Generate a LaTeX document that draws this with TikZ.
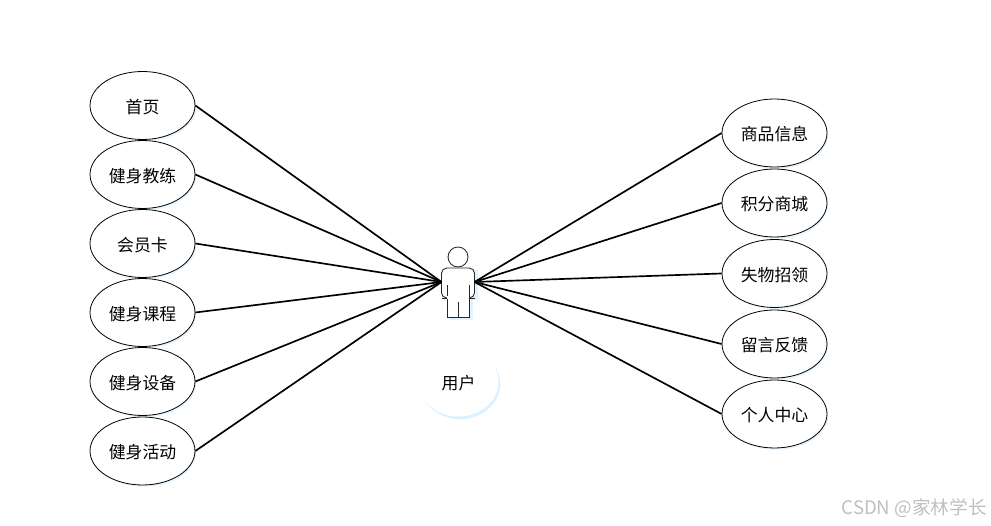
\documentclass[tikz,border=0pt]{standalone}
\usepackage{fontspec}
\setmainfont{Noto Sans CJK SC}
\usetikzlibrary{positioning}
\usetikzlibrary{shapes.geometric}
\usetikzlibrary{shadows}
\tikzset{
  roleshape/.style={ellipse,fill=white,inner sep=0pt,text height=10pt,text depth=1pt,font=\fontsize{9.6pt}{11pt}\selectfont,text=black},
  usecase/.style={roleshape,draw=black,line width=0.45pt,minimum width=2.1cm,minimum height=1.36cm,
    drop shadow={shadow xshift=0.7pt,shadow yshift=-1pt,fill=blue!40!cyan!15,opacity=0.7}},
  roleline/.style={black,line width=0.95pt},
  actorline/.style={black!85,line width=0.5pt},
}

\begin{document}
\begin{tikzpicture}[x=0.02cm,y=-0.02cm]
\useasboundingbox (0,0) rectangle (991,526);

\node[usecase] (home) at (142.5,105.5) {首页};
\node[usecase] (coach) at (142.5,174.5) {健身教练};
\node[usecase] (card) at (142.5,243.5) {会员卡};
\node[usecase] (course) at (142.5,312.5) {健身课程};
\node[usecase] (device) at (142.5,381.5) {健身设备};
\node[usecase] (activity) at (142.5,451) {健身活动};

\node[usecase] (goods) at (774.5,133) {商品信息};
\node[usecase] (mall) at (774.5,203) {积分商城};
\node[usecase] (lost) at (774.5,273.5) {失物招领};
\node[usecase] (message) at (774.5,344) {留言反馈};
\node[usecase] (center) at (774.5,414) {个人中心};

% actor
\fill[blue!40!cyan!12] (444,270) rectangle (478,300);
\fill[blue!40!cyan!12] (449,300) rectangle (473,320);
\draw[actorline] (458,257) circle (10);
\draw[actorline,fill=white,rounded corners=3pt] (441.5,298) -- (441.5,268) -- (474.5,268) -- (474.5,298) -- cycle;
\draw[actorline,fill=white] (447,285) -- (447,317) -- (469.5,317) -- (469.5,285);
\draw[actorline] (458,302) -- (458,317);
\fill[white] (447.4,296) rectangle (469.1,299);
\draw[actorline] (441.5,298) -- (447,298) (469.5,298) -- (474.5,298);
\coordinate (actorL) at (441.5,282);
\coordinate (actorR) at (474.5,282);

\node[roleshape,minimum width=1.6cm,minimum height=1.4cm,
  drop shadow={shadow xshift=1pt,shadow yshift=-1.5pt,fill=blue!40!cyan!20,opacity=0.7}] (user) at (458.5,381.5) {用户};

\draw[roleline] (home.east) -- (actorL);
\draw[roleline] (coach.east) -- (actorL);
\draw[roleline] (card.east) -- (actorL);
\draw[roleline] (course.east) -- (actorL);
\draw[roleline] (device.east) -- (actorL);
\draw[roleline] (activity.east) -- (actorL);

\draw[roleline] (goods.west) -- (actorR);
\draw[roleline] (mall.west) -- (actorR);
\draw[roleline] (lost.west) -- (actorR);
\draw[roleline] (message.west) -- (actorR);
\draw[roleline] (center.west) -- (actorR);

\node[font=\fontsize{10.6pt}{12pt}\selectfont,text=black!25,anchor=east,inner sep=0pt] (mark) at (987,508.5) {CSDN @家林学长};
\end{tikzpicture}
\end{document}
